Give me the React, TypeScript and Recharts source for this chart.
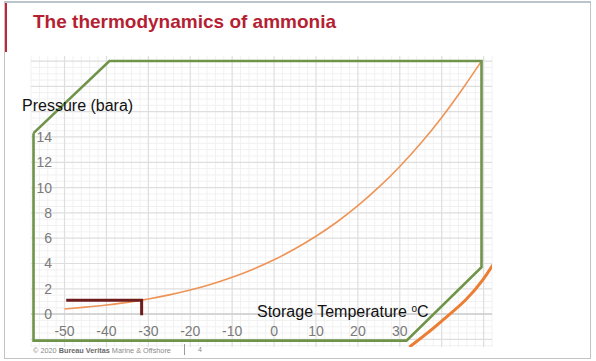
import { ComposedChart, Line, XAxis, YAxis, ReferenceLine } from 'recharts';

// axis ticks
const tempTicks = [-50, -40, -30, -20, -10, 0, 10, 20, 30];
const pressureTicks = [0, 2, 4, 6, 8, 10, 12, 14];

// saturation curve of ammonia
const curveTemps = [-50, -45, -40, -35, -30, -25, -20, -15, -10, -5, 0, 5, 10, 15, 20, 25, 30, 35, 40, 45, 49.5];
const curvePressures = [0.4, 0.55, 0.72, 0.93, 1.2, 1.52, 1.9, 2.36, 2.91, 3.55, 4.29, 5.16, 6.15, 7.28, 8.57, 10.03, 11.67, 13.5, 15.54, 17.81, 20];

// green envelope drawn over the chart
const envelopeTemps = [-57.4, -39.3, 49.5, 49.5, 31.6, -57.4, -57.4];
const envelopePressures = [14.3, 20, 20, 3.7, -2.1, -2.1, 14.3];

// atmospheric boiling point marker
const boilTemps = [-49.6, -31.6, -31.6];
const boilPressures = [1.1, 1.1, -0.1];

// thick orange edge bottom right
const edgeTemps = [32.3, 39.5, 49.8, 53];
const edgePressures = [-2.6, -0.7, 2.7, 4.3];

const zip = (xs: number[], ys: number[]) => xs.map((x, i) => ({ x, y: ys[i] }));

const curve = zip(curveTemps, curvePressures);
const envelope = zip(envelopeTemps, envelopePressures);
const boil = zip(boilTemps, boilPressures);
const edge = zip(edgeTemps, edgePressures);

const X_DOMAIN: [number, number] = [-58, 52];
const Y_DOMAIN: [number, number] = [-2.6, 20.4];

const minorX: number[] = [];
for (let t = -58; t <= 52; t += 2) if (t % 10 !== 0) minorX.push(t);
const majorX: number[] = [];
for (let t = -50; t <= 50; t += 10) majorX.push(t);
const minorY: number[] = [];
for (let p = -2.5; p <= 20.4; p += 0.5) if (p % 2 !== 0) minorY.push(p);
const majorY: number[] = [];
for (let p = -2; p <= 20; p += 2) majorY.push(p);

const font = '"Liberation Sans", Arial, sans-serif';

const XTick = ({ x, payload }: any) => (
  <text x={x} y={331} textAnchor="middle" dominantBaseline="central" fill="#7a7a7a" fontSize={14} fontFamily={font}>
    {payload.value}
  </text>
);

const YTick = ({ y, payload }: any) => (
  <text x={52} y={y} textAnchor="end" dominantBaseline="central" fill="#7a7a7a" fontSize={14} fontFamily={font}>
    {payload.value}
  </text>
);

export default function App() {
  return (
    <div style={{ position: 'absolute', left: 0, top: 0, width: 596, height: 361, background: '#fff', fontFamily: font, overflow: 'hidden' }}>
      {/* slide frame */}
      <div style={{ position: 'absolute', left: 4, top: 1, width: 587, height: 2, background: '#b9c5ca' }} />
      <div style={{ position: 'absolute', left: 4, top: 3, width: 1, height: 356, background: '#c4c4c4' }} />
      <div style={{ position: 'absolute', left: 590, top: 3, width: 1, height: 356, background: '#c4c4c4' }} />
      <div style={{ position: 'absolute', left: 4, top: 358, width: 587, height: 1, background: '#c4c4c4' }} />
      <div style={{ position: 'absolute', left: 5, top: 3, width: 2, height: 49, background: '#c0283a' }} />
      <div style={{ position: 'absolute', left: 33, top: 11, fontSize: 19, fontWeight: 700, color: '#b51f33', whiteSpace: 'nowrap' }}>
        The thermodynamics of ammonia
      </div>

      <div style={{ position: 'absolute', left: 0, top: 0 }}>
        <ComposedChart width={596} height={361} margin={{ top: 56, right: 104, bottom: 0, left: 5 }}>
          <XAxis
            type="number"
            dataKey="x"
            domain={X_DOMAIN}
            allowDataOverflow
            ticks={tempTicks}
            interval={0}
            height={14}
            axisLine={false}
            tickLine={false}
            tick={<XTick />}
          />
          <YAxis
            type="number"
            dataKey="y"
            domain={Y_DOMAIN}
            allowDataOverflow
            ticks={pressureTicks}
            interval={0}
            width={26}
            axisLine={false}
            tickLine={false}
            tick={<YTick />}
          />
          {minorX.map((t) => (
            <ReferenceLine key={'mx' + t} x={t} stroke="#f1f1f1" strokeWidth={1} />
          ))}
          {minorY.map((p) => (
            <ReferenceLine key={'my' + p} y={p} stroke="#f1f1f1" strokeWidth={1} />
          ))}
          {majorX.map((t) => (
            <ReferenceLine key={'Mx' + t} x={t} stroke="#dedede" strokeWidth={1.2} />
          ))}
          {majorY.map((p) => (
            <ReferenceLine key={'My' + p} y={p} stroke="#dedede" strokeWidth={1.2} />
          ))}
          <ReferenceLine y={0} stroke="#cfcfcf" strokeWidth={1.5} />
          <Line data={curve} dataKey="y" type="monotone" stroke="#ee9456" strokeWidth={1.6} dot={false} isAnimationActive={false} />
          <Line data={edge} dataKey="y" type="monotone" stroke="#ec7d32" strokeWidth={3} dot={false} isAnimationActive={false} />
          <Line data={boil} dataKey="y" type="linear" stroke="#6e1c1c" strokeWidth={3} dot={false} isAnimationActive={false} />
          <Line data={envelope} dataKey="y" type="linear" stroke="#6f9449" strokeWidth={2.6} dot={false} isAnimationActive={false} />
        </ComposedChart>
      </div>

      <div style={{ position: 'absolute', left: 22, top: 97, fontSize: 16, color: '#111', whiteSpace: 'nowrap' }}>Pressure (bara)</div>
      <div style={{ position: 'absolute', left: 257, top: 303, fontSize: 16, color: '#111', whiteSpace: 'nowrap' }}>
        Storage Temperature <sup style={{ fontSize: 10, verticalAlign: 5 }}>o</sup>C
      </div>

      <div style={{ position: 'absolute', left: 33, top: 346, fontSize: 7.3, color: '#8a8a8a', whiteSpace: 'nowrap' }}>
        © 2020 <b style={{ color: '#6a6a6a' }}>Bureau Veritas</b> Marine &amp; Offshore
      </div>
      <div style={{ position: 'absolute', left: 184, top: 344, width: 1, height: 11, background: '#9a9a9a' }} />
      <div style={{ position: 'absolute', left: 198, top: 346, fontSize: 7, color: '#8a8a8a' }}>4</div>
    </div>
  );
}
